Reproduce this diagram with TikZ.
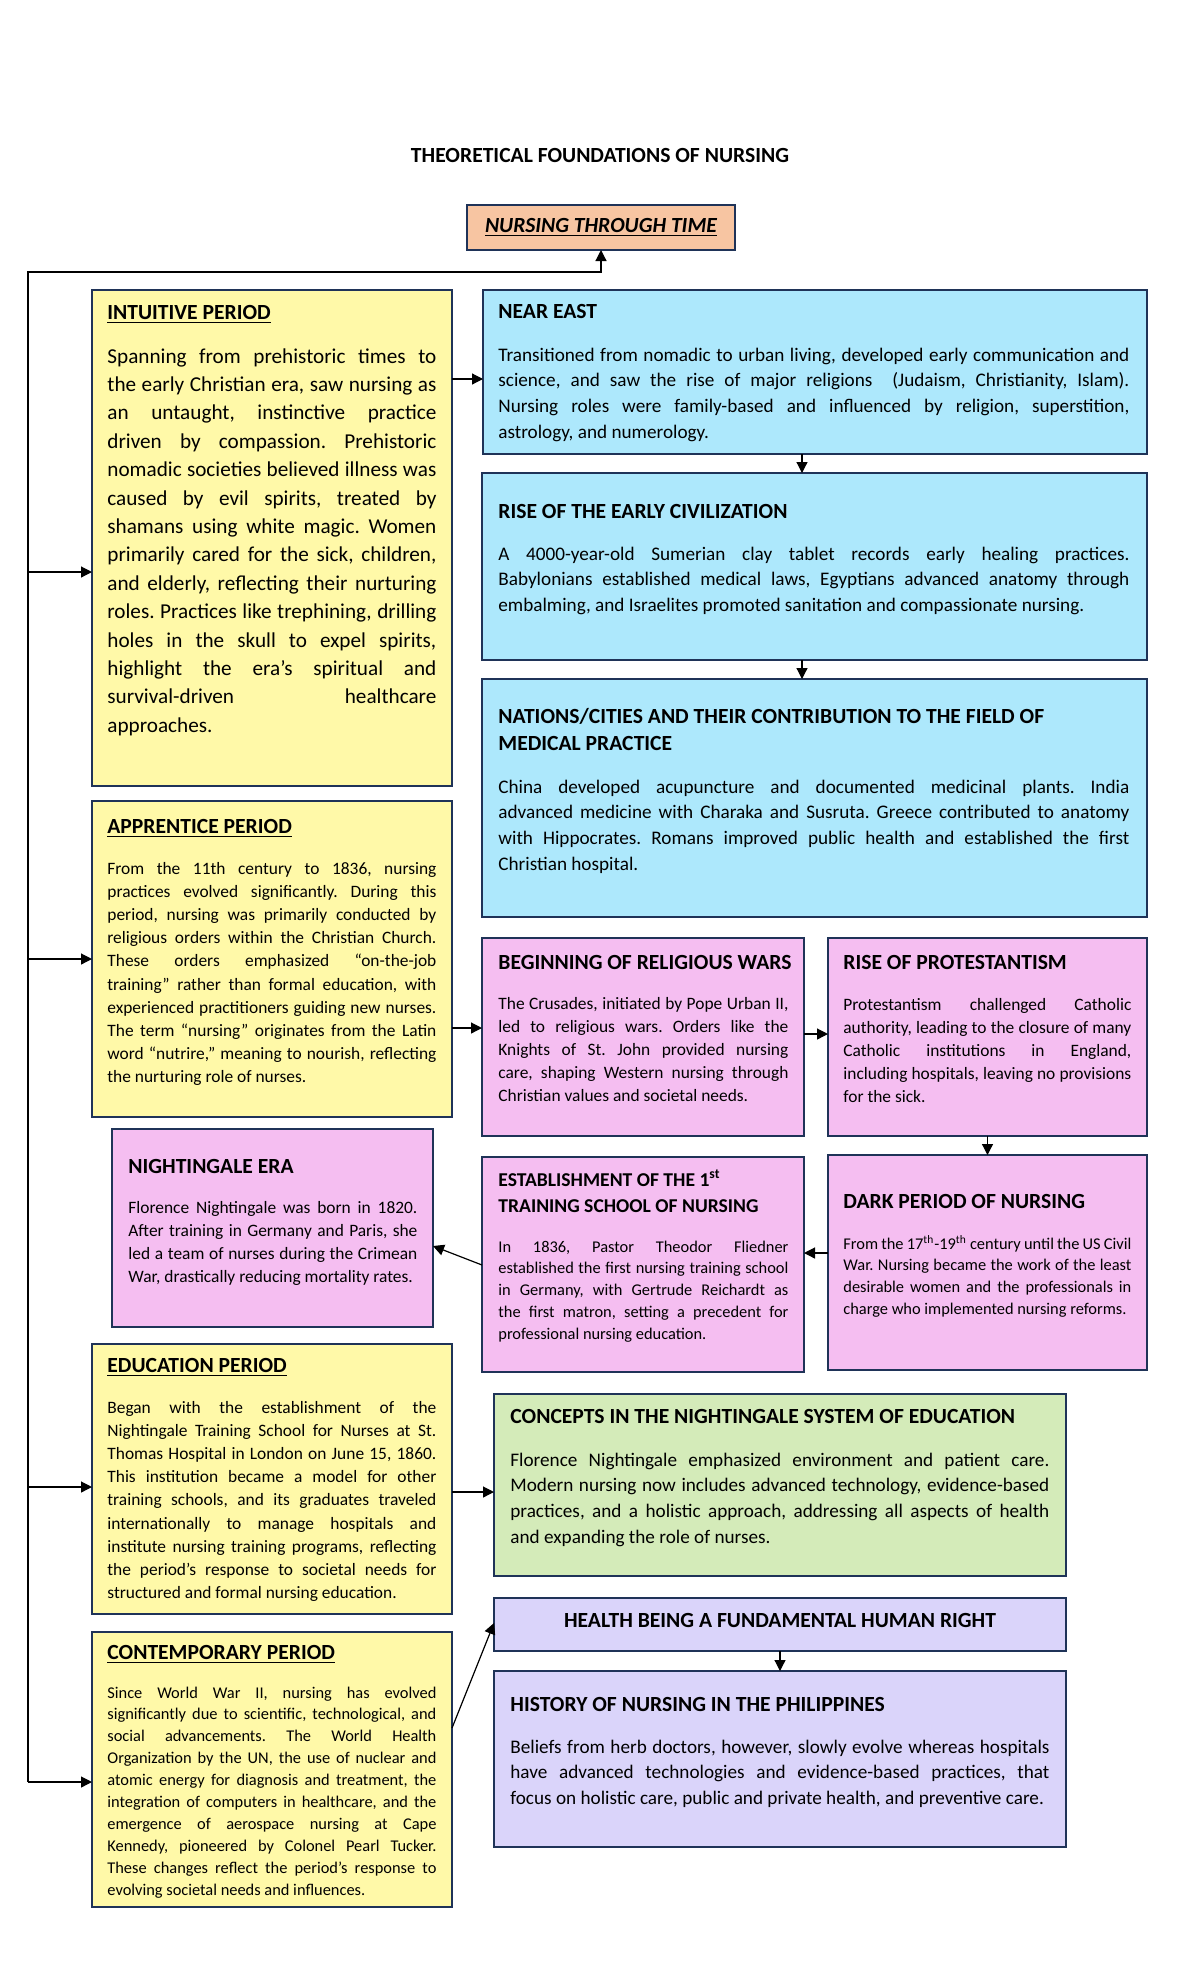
\documentclass[tikz,border=0pt]{standalone}
\usepackage{fontspec}
\setmainfont{Carlito}
\usepackage{tikz}
\usetikzlibrary{arrows.meta}

\definecolor{boxline}{HTML}{1F3358}
\definecolor{periodyellow}{HTML}{FFF9A8}
\definecolor{eastblue}{HTML}{ADE8FC}
\definecolor{warpink}{HTML}{F5BEF1}
\definecolor{conceptgreen}{HTML}{D4EBB9}
\definecolor{rightlilac}{HTML}{DAD4FA}
\definecolor{toppeach}{HTML}{F7C5A2}

\setlength{\parindent}{0pt}
\hyphenpenalty=10000
\exhyphenpenalty=10000
\tolerance=9999
\frenchspacing

\begin{document}
\begin{tikzpicture}[x=0.5pt, y=-0.5pt, >={Triangle[length=5.5pt,width=5.5pt]},
    box/.style={draw=boxline, line width=1pt, anchor=north west, inner sep=0pt, outer sep=0pt},
    head/.style={anchor=base west, inner sep=0pt, align=flush left, font=\bfseries\fontsize{10.8}{13.9}\selectfont},
    body/.style={anchor=base west, inner sep=0pt, align=justify},
    bodyL/.style={body, font=\fontsize{10.6}{14.2}\selectfont},
    bodyM/.style={body, font=\fontsize{9.6}{12.9}\selectfont},
    bodyS/.style={body, font=\fontsize{8.7}{11.6}\selectfont},
    bodyXS/.style={body, font=\fontsize{8.2}{10.95}\selectfont},
    link/.style={->, line width=0.6pt}]
    \useasboundingbox (0,0) rectangle (1200,1976);

    % Title and top box
    \node (title) at (600,162) [anchor=base, inner sep=0pt, font=\bfseries\fontsize{10.8}{13}\selectfont] {THEORETICAL FOUNDATIONS OF NURSING};
    \node (top) at (467,205) [box, fill=toppeach, minimum width=134pt, minimum height=22.5pt] {};
    \node (toplabel) at (601,232) [anchor=base, inner sep=0pt, font=\bfseries\itshape\fontsize{10.8}{13}\selectfont] {\underline{NURSING THROUGH TIME}};

    % The periods (left column)
    \node (intuitive) at (92,290) [box, fill=periodyellow, minimum width=180pt, minimum height=248pt] {};
    \node (intuitivehead) at (107,319) [head] {\underline{INTUITIVE PERIOD}};
    \node (intuitivetext) at (107,363) [bodyL, text width=164.5pt] {Spanning from prehistoric times to\linebreak
        the early Christian era, saw nursing as\linebreak
        an untaught, instinctive practice\linebreak
        driven by compassion. Prehistoric\linebreak
        nomadic societies believed illness was\linebreak
        caused by evil spirits, treated by\linebreak
        shamans using white magic. Women\linebreak
        primarily cared for the sick, children,\linebreak
        and elderly, reflecting their nurturing\linebreak
        roles. Practices like trephining, drilling\linebreak
        holes in the skull to expel spirits,\linebreak
        highlight the era’s spiritual and\linebreak
        survival-driven healthcare\linebreak
        approaches.};

    \node (apprentice) at (92,801) [box, fill=periodyellow, minimum width=180pt, minimum height=158pt] {};
    \node (apprenticehead) at (107,833) [head] {\underline{APPRENTICE PERIOD}};
    \node (apprenticetext) at (107,874) [bodyS, text width=164.5pt] {From the 11th century to 1836, nursing\linebreak
        practices evolved significantly. During this\linebreak
        period, nursing was primarily conducted by\linebreak
        religious orders within the Christian Church.\linebreak
        These orders emphasized “on-the-job\linebreak
        training” rather than formal education, with\linebreak
        experienced practitioners guiding new nurses.\linebreak
        The term “nursing” originates from the Latin\linebreak
        word “nutrire,” meaning to nourish, reflecting\linebreak
        the nurturing role of nurses.};

    \node (nightingale) at (112,1129) [box, fill=warpink, minimum width=160.5pt, minimum height=99pt] {};
    \node (nightingalehead) at (128,1173) [head] {NIGHTINGALE ERA};
    \node (nightingaletext) at (128,1213) [bodyS, text width=144.5pt] {Florence Nightingale was born in 1820.\linebreak
        After training in Germany and Paris, she\linebreak
        led a team of nurses during the Crimean\linebreak
        War, drastically reducing mortality rates.};

    \node (education) at (92,1344) [box, fill=periodyellow, minimum width=180pt, minimum height=135pt] {};
    \node (educationhead) at (107,1372) [head] {\underline{EDUCATION PERIOD}};
    \node (educationtext) at (107,1413) [bodyS, text width=164.5pt] {Began with the establishment of the\linebreak
        Nightingale Training School for Nurses at St.\linebreak
        Thomas Hospital in London on June 15, 1860.\linebreak
        This institution became a model for other\linebreak
        training schools, and its graduates traveled\linebreak
        internationally to manage hospitals and\linebreak
        institute nursing training programs, reflecting\linebreak
        the period’s response to societal needs for\linebreak
        structured and formal nursing education.};

    \node (contemp) at (92,1632) [box, fill=periodyellow, minimum width=180pt, minimum height=137.5pt] {};
    \node (contemphead) at (107,1659) [head] {\underline{CONTEMPORARY PERIOD}};
    \node (contemptext) at (107,1698) [bodyXS, text width=164.5pt] {Since World War II, nursing has evolved\linebreak
        significantly due to scientific, technological, and\linebreak
        social advancements. The World Health\linebreak
        Organization by the UN, the use of nuclear and\linebreak
        atomic energy for diagnosis and treatment, the\linebreak
        integration of computers in healthcare, and the\linebreak
        emergence of aerospace nursing at Cape\linebreak
        Kennedy, pioneered by Colonel Pearl Tucker.\linebreak
        These changes reflect the period’s response to\linebreak
        evolving societal needs and influences.};

    % Early history (blue)
    \node (neareast) at (483,290) [box, fill=eastblue, minimum width=332pt, minimum height=82pt] {};
    \node (neareasthead) at (498,318) [head] {NEAR EAST};
    \node (neareasttext) at (498,361) [bodyM, text width=315.5pt] {Transitioned from nomadic to urban living, developed early communication and\linebreak
        science, and saw the rise of major religions ~(Judaism, Christianity, Islam).\linebreak
        Nursing roles were family-based and influenced by religion, superstition,\linebreak
        astrology, and numerology.};

    \node (civil) at (482,473) [box, fill=eastblue, minimum width=332.5pt, minimum height=93.5pt] {};
    \node (civilhead) at (498,518) [head] {RISE OF THE EARLY CIVILIZATION};
    \node (civiltext) at (498,560) [bodyM, text width=315.5pt] {A 4000-year-old Sumerian clay tablet records early healing practices.\linebreak
        Babylonians established medical laws, Egyptians advanced anatomy through\linebreak
        embalming, and Israelites promoted sanitation and compassionate nursing.};

    \node (nations) at (482,679) [box, fill=eastblue, minimum width=332.5pt, minimum height=119pt] {};
    \node (nationshead) at (498,723) [head, text width=315.5pt] {NATIONS/CITIES AND THEIR CONTRIBUTION TO THE FIELD OF\\MEDICAL PRACTICE};
    \node (nationstext) at (498,793) [bodyM, text width=315.5pt] {China developed acupuncture and documented medicinal plants. India\linebreak
        advanced medicine with Charaka and Susruta. Greece contributed to anatomy\linebreak
        with Hippocrates. Romans improved public health and established the first\linebreak
        Christian hospital.};

    % Religious era (pink)
    \node (wars) at (482,938) [box, fill=warpink, minimum width=161pt, minimum height=99pt] {};
    \node (warshead) at (498,969) [head] {BEGINNING OF RELIGIOUS WARS};
    \node (warstext) at (498,1009) [bodyS, text width=145pt] {The Crusades, initiated by Pope Urban II,\linebreak
        led to religious wars. Orders like the\linebreak
        Knights of St. John provided nursing\linebreak
        care, shaping Western nursing through\linebreak
        Christian values and societal needs.};

    \node (protest) at (828,938) [box, fill=warpink, minimum width=159.5pt, minimum height=99pt] {};
    \node (protesthead) at (843,969) [head] {RISE OF PROTESTANTISM};
    \node (protesttext) at (843,1010) [bodyS, text width=144pt] {Protestantism challenged Catholic\linebreak
        authority, leading to the closure of many\linebreak
        Catholic institutions in England,\linebreak
        including hospitals, leaving no provisions\linebreak
        for the sick.};

    \node (school) at (482,1157) [box, fill=warpink, minimum width=161pt, minimum height=107.5pt] {};
    \node (schoolhead) at (498,1186) [head, text width=145pt, font=\bfseries\fontsize{9.8}{13}\selectfont] {ESTABLISHMENT OF THE 1\textsuperscript{st}\\TRAINING SCHOOL OF NURSING};
    \node (schooltext) at (498,1252) [bodyXS, text width=145pt] {In 1836, Pastor Theodor Fliedner\linebreak
        established the first nursing training school\linebreak
        in Germany, with Gertrude Reichardt as\linebreak
        the first matron, setting a precedent for\linebreak
        professional nursing education.};

    \node (dark) at (828,1155) [box, fill=warpink, minimum width=159.5pt, minimum height=107.5pt] {};
    \node (darkhead) at (843,1208) [head] {DARK PERIOD OF NURSING};
    \node (darktext) at (843,1249) [bodyXS, text width=144pt] {From the 17\textsuperscript{th}-19\textsuperscript{th} century until the US Civil\linebreak
        War. Nursing became the work of the least\linebreak
        desirable women and the professionals in\linebreak
        charge who implemented nursing reforms.};

    % Modern era
    \node (concepts) at (494,1394) [box, fill=conceptgreen, minimum width=286pt, minimum height=91pt] {};
    \node (conceptshead) at (510,1423) [head] {CONCEPTS IN THE NIGHTINGALE SYSTEM OF EDUCATION};
    \node (conceptstext) at (510,1466) [bodyM, text width=269.5pt] {Florence Nightingale emphasized environment and patient care.\linebreak
        Modern nursing now includes advanced technology, evidence-based\linebreak
        practices, and a holistic approach, addressing all aspects of health\linebreak
        and expanding the role of nurses.};

    \node (right) at (494,1598) [box, fill=rightlilac, minimum width=286pt, minimum height=26.5pt] {};
    \node (righthead) at (780,1627) [head, anchor=base] {HEALTH BEING A FUNDAMENTAL HUMAN RIGHT};

    \node (philippines) at (494,1671) [box, fill=rightlilac, minimum width=286pt, minimum height=88pt] {};
    \node (philippineshead) at (510,1711) [head] {HISTORY OF NURSING IN THE PHILIPPINES};
    \node (philippinestext) at (510,1753) [bodyM, text width=269.5pt] {Beliefs from herb doctors, however, slowly evolve whereas hospitals\linebreak
        have advanced technologies and evidence-based practices, that\linebreak
        focus on holistic care, public and private health, and preventive care.};

    % Spine back to the top box
    \coordinate (spinetop) at (28,272);
    \coordinate (spinebot) at (28,1782);
    \draw[link] (spinebot) -- (spinetop) -| (top.south);
    \draw[link] (spinetop |- 0,572) -- (intuitive.west |- 0,572);
    \draw[link] (spinetop |- 0,959) -- (apprentice.west |- 0,959);
    \draw[link] (spinetop |- 0,1487) -- (education.west |- 0,1487);
    \draw[link] (spinebot) -- (contemp.west |- spinebot);

    % Connectors between boxes
    \draw[link] (intuitive.east |- 0,379) -- (neareast.west |- 0,379);
    \draw[link] (neareast.south -| 802,0) -- (civil.north -| 802,0);
    \draw[link] (civil.south -| 802,0) -- (nations.north -| 802,0);
    \draw[link] (apprentice.east |- 0,1028) -- (wars.west |- 0,1028);
    \draw[link] (wars.east |- 0,1034) -- (protest.west |- 0,1034);
    \draw[link] (protest.south) -- (dark.north);
    \draw[link] (dark.west |- 0,1253) -- (school.east |- 0,1253);
    \draw[link] (school.west |- 0,1265) -- (nightingale.east |- 0,1246);
    \draw[link] (education.east |- 0,1492) -- (concepts.west |- 0,1492);
    \draw[link] (contemp.east |- 0,1728) -- (right.west |- 0,1623);
    \draw[link] (right.south) -- (philippines.north);
\end{tikzpicture}
\end{document}
